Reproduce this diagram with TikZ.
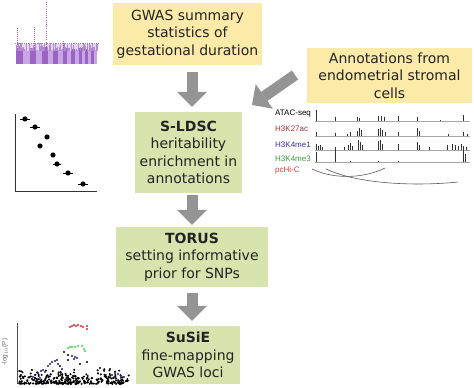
\documentclass[tikz,border=0pt]{standalone}
\usepackage{fontspec}
\setmainfont{DejaVu Sans}
\newfontfamily\labfont{Liberation Sans}
\usetikzlibrary{arrows.meta}
\definecolor{boxyellow}{RGB}{252,234,168}
\definecolor{boxgreen}{RGB}{215,228,173}
\definecolor{arrowgray}{RGB}{148,148,148}
\definecolor{purpdark}{RGB}{155,100,195}
\definecolor{purplight}{RGB}{200,165,228}
\definecolor{purppale}{RGB}{230,214,244}
\definecolor{labred}{RGB}{160,50,60}
\definecolor{labblue}{RGB}{50,50,170}
\definecolor{labgreen}{RGB}{60,150,60}
\definecolor{labpink}{RGB}{220,60,60}
\definecolor{txt}{RGB}{35,35,35}
\definecolor{navy}{RGB}{30,30,120}
\definecolor{dotgreen}{RGB}{70,215,70}
\definecolor{dotred}{RGB}{220,40,40}
\begin{document}
\begin{tikzpicture}[x=1pt,y=-1pt,
  box/.style={inner sep=0pt, align=center, text=txt, font=\fontsize{14}{17.5}\selectfont},
  ybox/.style={box, fill=boxyellow},
  gbox/.style={box, fill=boxgreen},
  bigarrow/.style={draw=arrowgray, line width=11pt, -{Triangle[width=30pt,length=15pt,line width=0pt]}},
  lab/.style={anchor=west, inner sep=0pt, font=\labfont\fontsize{8}{9}\selectfont},
  peak/.style={line width=0.7pt, black!80},
  base/.style={line width=0.3pt, black!35},
  dot/.style={radius=1.15pt}
]
\useasboundingbox (0,0) rectangle (474,388);

% ---------- boxes ----------
\node[ybox, minimum width=149pt, minimum height=62pt] (gwas) at (187.5,34)
  {GWAS summary\\statistics of\\gestational duration};
\node[ybox, minimum width=165pt, minimum height=55pt] (annot) at (389.5,75.5)
  {Annotations from\\endometrial stromal\\cells};
\node[gbox, minimum width=107pt, minimum height=81pt] (sldsc) at (188.5,152.5)
  {\textbf{S-LDSC}\\heritability\\enrichment in\\annotations};
\node[gbox, minimum width=152pt, minimum height=60pt] (torus) at (192,257)
  {\textbf{TORUS}\\setting informative\\prior for SNPs};
\node[gbox, minimum width=104pt, minimum height=58pt] (susie) at (188,355)
  {\textbf{SuSiE}\\fine-mapping\\GWAS loci};

% ---------- block arrows ----------
\coordinate (ax) at (192,0);
\draw[bigarrow, shorten <=7pt, shorten >=5pt] (gwas.south -| ax) -- (sldsc.north -| ax);
\draw[bigarrow, shorten <=2pt, shorten >=2pt] (sldsc.south -| ax) -- (torus.north -| ax);
\draw[bigarrow, shorten <=6pt, shorten >=5pt] (torus.south -| ax) -- (susie.north -| ax);
\coordinate (dtail) at (295,75);
\coordinate (dtip) at (252,105);
\draw[bigarrow] (dtail) -- (dtip);

% ---------- Manhattan plot (top left) ----------
\pgfmathsetseed{4242}
\fill[purppale] (16,44) rectangle (97,52);
\foreach \a/\b/\t/\c in {16/23/49/purpdark, 23/30/51/purplight, 30/36/48/purpdark,
  36/42/50/purplight, 42/48/47/purpdark, 48/53/50/purplight, 53/58/49/purpdark,
  58/63/50/purplight, 63/67/48/purpdark, 67/71/51/purplight, 71/75/49/purpdark,
  75/79/50/purplight, 79/82/48/purpdark, 82/85/50/purplight, 85/88/49/purpdark,
  88/91/50/purplight, 91/94/51/purpdark, 94/97/50/purplight}
  {\fill[\c] (\a,\t) rectangle (\b,64);}
\foreach \k in {1,...,110} {
  \pgfmathsetmacro\xx{16+81*rnd}
  \pgfmathsetmacro\hh{43+7*rnd}
  \draw[purpdark!75, line width=0.35pt] (\xx,\hh) -- (\xx,51);
}
\draw[purpdark, line width=0.8pt, dash pattern=on 1pt off 1pt] (17,28) -- (17,50);
\draw[purpdark, line width=0.8pt, dash pattern=on 1pt off 1pt] (34,27) -- (34,50);
\draw[purpdark, line width=0.8pt, dash pattern=on 1pt off 1.2pt] (46,2) -- (46,50);
\draw[purpdark, line width=0.8pt, dash pattern=on 1pt off 1pt] (63,41) -- (63,50);
\draw[black!45, line width=0.4pt, dash pattern=on 1pt off 0.8pt] (15,43) -- (99,43);

% ---------- forest plot ----------
\draw[line width=0.5pt, black!80] (15,114) -- (15,191) -- (97,191);
\foreach \px/\py/\e in {25/119/5, 35/127/5, 47/137/0, 40/146/0, 53/155/0, 57/164/4, 68/173/5, 83/184/5} {
  \fill (\px,\py) circle (2.6pt);
  \draw[line width=0.8pt] (\px-\e,\py) -- (\px+\e,\py);
}

% ---------- fine-mapping Manhattan (bottom left) ----------
\draw[line width=0.5pt, black!70] (17,323) -- (17,384);
\node[rotate=90, inner sep=0pt, text=black!60, font=\labfont\fontsize{6.5}{7}\selectfont] at (5,352) {-log$_{10}$(P)};
\pgfmathsetseed{777}
\foreach \k in {1,...,300} {
  \pgfmathsetmacro\xx{19+110*rnd}
  \pgfmathsetmacro\yy{384-17*rnd*rnd}
  \fill[black] (\xx,\yy) circle[dot];
}
\foreach \xx/\yy in {68/355,68/360,87/362,60/366,80/364,100/368,110/369,64/352}
  {\fill[black] (\xx,\yy) circle[dot];}
\foreach \xx/\yy in {33/377,35/375,38/373,41/371,43/370,45/372,48/366,50/364,52/362,55/361,57/360,
  58/364,72/356,75/357,77/358,74/359,112/375,115/373,118/374,121/376,124/377,40/378,62/369}
  {\fill[navy] (\xx,\yy) circle[dot];}
\foreach \xx/\yy in {68/348,70/347,72/347,75/347,78/346,82/346,84/349,85/351}
  {\fill[dotgreen] (\xx,\yy) circle[dot];}
\foreach \xx/\yy in {70/327,72/326,74/325,76/326,78/325,81/326,83/327,87/326,87/329}
  {\fill[dotred] (\xx,\yy) circle[dot];}

% ---------- genome tracks ----------
\node[lab, text=black] (latac) at (275,114) {ATAC-seq};
\node[lab, text=labred] (lk27) at (275,129) {H3K27ac};
\node[lab, text=labblue] (lk4m1) at (275,145) {H3K4me1};
\node[lab, text=labgreen] (lk4m3) at (275,159) {H3K4me3};
\node[lab, text=labpink] (lhic) at (275,170) {pcHi-C};
\foreach \yb in {121,136,150,162} {\draw[base] (315,\yb) -- (470,\yb);}
\foreach \xx/\h in {316/11, 335/4, 357/4, 359/3, 378/5, 381/5, 384/4, 398/5, 417/4, 440/1.5, 463/6}
  {\draw[peak] (\xx,121) -- ++(0,-\h);}
\foreach \xx/\h in {316/4, 335/3, 347/2, 350/4, 357/5, 359/8, 361/6, 378/7, 380/8, 382/6, 385/4,
  398/4, 417/8, 419/5, 448/2, 463/4, 467/2}
  {\draw[peak] (\xx,136) -- ++(0,-\h);}
\foreach \xx/\h in {316/6, 318/4, 320/5, 322/3, 335/3, 344/3, 348/5, 350/7, 352/4, 358/10, 360/8,
  362/5, 378/9, 380/10, 382/6, 398/6, 417/8, 419/5, 429/3, 447/5, 452/6, 455/5, 458/4, 461/6, 463/4, 466/3}
  {\draw[peak] (\xx,150) -- ++(0,-\h);}
\foreach \xx/\h in {316/10, 335/12, 350/1, 378/1, 398/1, 463/14, 465/8}
  {\draw[peak] (\xx,162) -- ++(0,-\h);}
\draw[line width=0.6pt, black!65] (312,169) .. controls (335,180) and (365,178) .. (385,168);
\draw[line width=0.6pt, black!65] (326,169) .. controls (360,185) and (420,186) .. (458,182);
\end{tikzpicture}
\end{document}
